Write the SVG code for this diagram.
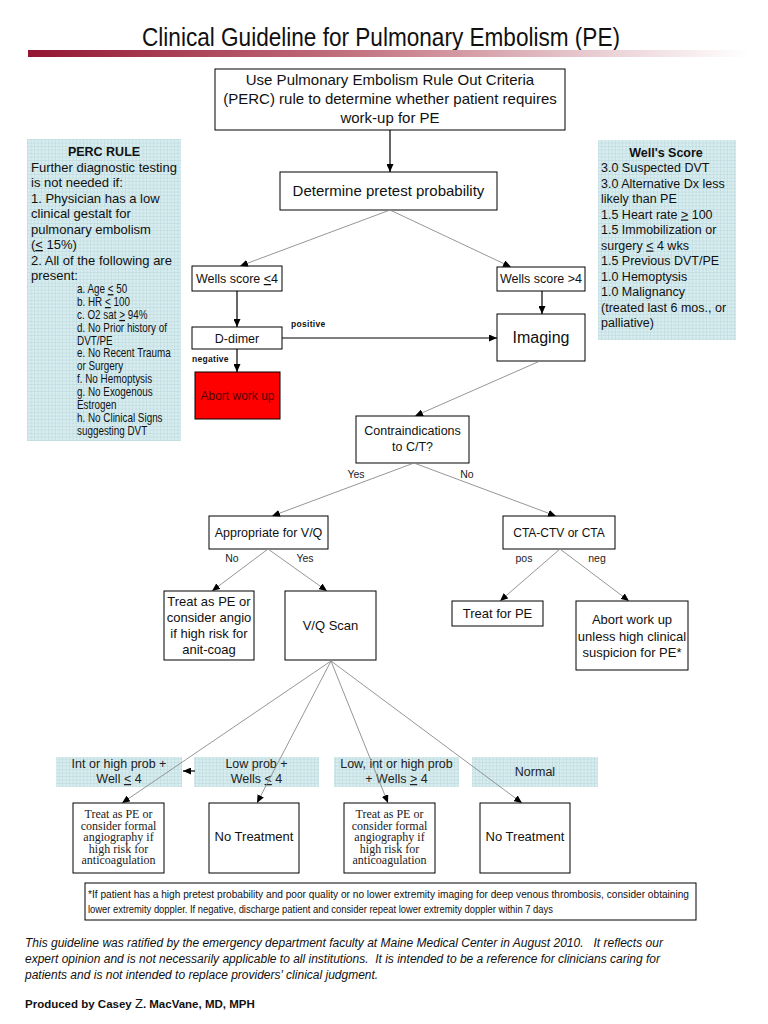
<svg xmlns="http://www.w3.org/2000/svg" width="768" height="1024" viewBox="0 0 768 1024">
<defs>
<linearGradient id="bar" x1="0" y1="0" x2="1" y2="0">
<stop offset="0" stop-color="#941632"/>
<stop offset="0.45" stop-color="#c2727f"/>
<stop offset="0.8" stop-color="#ead0d5"/>
<stop offset="1" stop-color="#ffffff"/>
</linearGradient>
<pattern id="grid" width="3.5" height="3.5" patternUnits="userSpaceOnUse">
<rect width="3.5" height="3.5" fill="#d7ecef"/>
<path d="M3.5 0V3.5M0 3.5H3.5" stroke="#a6cbd1" stroke-width="0.6"/>
</pattern>
<marker id="ah" markerWidth="8" markerHeight="7" refX="8" refY="3.5" orient="auto" markerUnits="userSpaceOnUse">
<path d="M0,0 L8,3.5 L0,7 z" fill="#000"/>
</marker>
<style>
text{font-family:"Liberation Sans",Arial,sans-serif;fill:#111}
.box{fill:#fff;stroke:#000;stroke-width:1}
.note{fill:url(#grid);stroke:none}
.c{text-anchor:middle}
.s15{font-size:15px}
.s13{font-size:13px}
.s125{font-size:12.5px}
.s12{font-size:12px}
.lab{font-size:10.5px;fill:#222}
.tiny{font-size:8.5px;font-weight:bold;letter-spacing:0.3px}
.serif{font-family:"Liberation Serif","Times New Roman",serif;font-size:12px;fill:#222}
.u{text-decoration:underline}
.cn{fill:none;stroke:#000;stroke-width:1.2}
.cg{fill:none;stroke:#8a8a8a;stroke-width:0.9}
.fn{font-size:10.2px}
</style>
</defs>
<rect width="768" height="1024" fill="#fff"/>

<g id="header">
<text x="381" y="46" class="c" style="font-size:25px" textLength="478" lengthAdjust="spacingAndGlyphs">Clinical Guideline for Pulmonary Embolism (PE)</text>
<rect x="28" y="50" width="720" height="7" fill="url(#bar)"/>
</g>

<g id="perc-note">
<rect x="27" y="139" width="154" height="302" class="note"/>
<text x="104" y="155.5" class="c s125" style="font-weight:bold">PERC RULE</text>
<g class="s13">
<text x="31" y="171.5">Further diagnostic testing</text>
<text x="31" y="187">is not needed if:</text>
<text x="31" y="202.5">1. Physician has a low</text>
<text x="31" y="218">clinical gestalt for</text>
<text x="31" y="233.5">pulmonary embolism</text>
<text x="31" y="249">(<tspan class="u">&lt;</tspan> 15%)</text>
<text x="31" y="264.5">2. All of the following are</text>
<text x="31" y="280">present:</text>
</g>
<g class="s13" transform="translate(77,0) scale(0.76,1)">
<text x="0" y="293">a. Age <tspan class="u">&lt;</tspan> 50</text>
<text x="0" y="305.9">b. HR <tspan class="u">&lt;</tspan> 100</text>
<text x="0" y="318.8">c. O2 sat <tspan class="u">&gt;</tspan> 94%</text>
<text x="0" y="331.7">d. No Prior history of</text>
<text x="0" y="344.6">DVT/PE</text>
<text x="0" y="357.5">e. No Recent Trauma</text>
<text x="0" y="370.4">or Surgery</text>
<text x="0" y="383.3">f. No Hemoptysis</text>
<text x="0" y="396.2">g. No Exogenous</text>
<text x="0" y="409.1">Estrogen</text>
<text x="0" y="422">h. No Clinical Signs</text>
<text x="0" y="434.9">suggesting DVT</text>
</g>
</g>

<g id="wells-note">
<rect x="598" y="140" width="138" height="200" class="note"/>
<text x="666" y="156.5" class="c s125" style="font-weight:bold">Well's Score</text>
<g class="s125">
<text x="601" y="172">3.0 Suspected DVT</text>
<text x="601" y="187.5">3.0 Alternative Dx less</text>
<text x="601" y="203">likely than PE</text>
<text x="601" y="218.5">1.5 Heart rate <tspan class="u">&gt;</tspan> 100</text>
<text x="601" y="234">1.5 Immobilization or</text>
<text x="601" y="249.5">surgery <tspan class="u">&lt;</tspan> 4 wks</text>
<text x="601" y="265">1.5 Previous DVT/PE</text>
<text x="601" y="280.5">1.0 Hemoptysis</text>
<text x="601" y="296">1.0 Malignancy</text>
<text x="601" y="311.5">(treated last 6 mos., or</text>
<text x="601" y="327">palliative)</text>
</g>
</g>

<g id="perc-start">
<rect x="215" y="69" width="350" height="61" class="box"/>
<text x="390" y="85" class="c s15">Use Pulmonary Embolism Rule Out Criteria</text>
<text x="390" y="104" class="c s15">(PERC) rule to determine whether patient requires</text>
<text x="390" y="123" class="c s15">work-up for PE</text>
</g>

<g id="pretest">
<rect x="280" y="172" width="217" height="38" class="box"/>
<text x="388.5" y="196" class="c s15">Determine pretest probability</text>
</g>

<g id="wells-low">
<rect x="192" y="266" width="90" height="25" class="box"/>
<text x="237" y="283" class="c s125">Wells score <tspan class="u">&lt;</tspan>4</text>
</g>

<g id="wells-high">
<rect x="497" y="267" width="88" height="24" class="box"/>
<text x="541" y="283" class="c s125">Wells score &gt;4</text>
</g>

<g id="ddimer">
<rect x="192" y="327" width="90" height="22" class="box"/>
<text x="237" y="342.5" class="c s125">D-dimer</text>
</g>

<g id="abort1">
<rect x="195" y="372" width="85" height="47" fill="#ff0000" stroke="#000" stroke-width="1"/>
<text x="237.5" y="400" class="c s12" style="fill:#550000">Abort work up</text>
</g>

<g id="imaging">
<rect x="497" y="314" width="88" height="47" class="box"/>
<text x="541" y="343" class="c" style="font-size:16px">Imaging</text>
</g>

<g id="contra">
<rect x="356" y="416" width="113" height="47" class="box"/>
<text x="412.5" y="434.5" class="c s125">Contraindications</text>
<text x="412.5" y="450.5" class="c s125">to C/T?</text>
</g>

<g id="vq-appropriate">
<rect x="209" y="516" width="119" height="33" class="box"/>
<text x="268.5" y="537" class="c s125">Appropriate for V/Q</text>
</g>

<g id="cta">
<rect x="503" y="516" width="112" height="33" class="box"/>
<text x="559" y="537" class="c s12">CTA-CTV or CTA</text>
</g>

<g id="treat-angio">
<rect x="164" y="591" width="90" height="69" class="box"/>
<text x="209" y="606" class="c s13">Treat as PE or</text>
<text x="209" y="622" class="c s13">consider angio</text>
<text x="209" y="638" class="c s13">if high risk for</text>
<text x="209" y="654" class="c s13">anit-coag</text>
</g>

<g id="vq-scan">
<rect x="285" y="591" width="91" height="69" class="box"/>
<text x="330.5" y="630" class="c s13">V/Q Scan</text>
</g>

<g id="treat-pe">
<rect x="452" y="601" width="91" height="25" class="box"/>
<text x="497.5" y="618" class="c s13">Treat for PE</text>
</g>

<g id="abort2">
<rect x="576" y="601" width="112" height="69" class="box"/>
<text x="632" y="624" class="c s13">Abort work up</text>
<text x="632" y="640.5" class="c s13">unless high clinical</text>
<text x="632" y="657" class="c s13">suspicion for PE*</text>
</g>

<g id="lbl-int-high">
<rect x="56" y="757" width="126" height="30" class="note"/>
<text x="119" y="768" class="c s125" style="fill:#222">Int or high prob +</text>
<text x="119" y="783" class="c s125" style="fill:#222">Well <tspan class="u">&lt;</tspan> 4</text>
</g>

<g id="lbl-low">
<rect x="194" y="757" width="125" height="30" class="note"/>
<text x="256.5" y="768" class="c s125" style="fill:#222">Low prob +</text>
<text x="256.5" y="783" class="c s125" style="fill:#222">Wells <tspan class="u">&lt;</tspan> 4</text>
</g>

<g id="lbl-any">
<rect x="334" y="757" width="125" height="30" class="note"/>
<text x="396.5" y="768" class="c s125" style="fill:#222">Low, int or high prob</text>
<text x="396.5" y="783" class="c s125" style="fill:#222">+ Wells <tspan class="u">&gt;</tspan> 4</text>
</g>

<g id="lbl-normal">
<rect x="472" y="757" width="126" height="30" class="note"/>
<text x="535" y="775.5" class="c s125" style="fill:#222">Normal</text>
</g>

<g id="res1">
<rect x="73" y="803" width="91" height="70" class="box"/>
<text x="118.5" y="818" class="c serif">Treat as PE or</text>
<text x="118.5" y="829.5" class="c serif">consider formal</text>
<text x="118.5" y="841" class="c serif">angiography if</text>
<text x="118.5" y="852.5" class="c serif">high risk for</text>
<text x="118.5" y="864" class="c serif">anticoagulation</text>
</g>

<g id="res2">
<rect x="209" y="803" width="90" height="70" class="box"/>
<text x="254" y="841" class="c s13">No Treatment</text>
</g>

<g id="res3">
<rect x="344" y="803" width="91" height="70" class="box"/>
<text x="389.5" y="818" class="c serif">Treat as PE or</text>
<text x="389.5" y="829.5" class="c serif">consider formal</text>
<text x="389.5" y="841" class="c serif">angiography if</text>
<text x="389.5" y="852.5" class="c serif">high risk for</text>
<text x="389.5" y="864" class="c serif">anticoagulation</text>
</g>

<g id="res4">
<rect x="480" y="803" width="90" height="70" class="box"/>
<text x="525" y="841" class="c s13">No Treatment</text>
</g>

<g id="footnote">
<rect x="85" y="883" width="611" height="37" class="box"/>
<text x="88" y="898" class="fn" textLength="601" lengthAdjust="spacingAndGlyphs">*If patient has a high pretest probability and poor quality or no lower extremity imaging for deep venous thrombosis, consider obtaining</text>
<text x="88" y="912.5" class="fn" textLength="465" lengthAdjust="spacingAndGlyphs">lower extremity doppler. If negative, discharge patient and consider repeat lower extremity doppler within 7 days</text>
</g>

<g id="disclaimer">
<text x="25" y="947" style="font-size:12px;font-style:italic" xml:space="preserve">This guideline was ratified by the emergency department faculty at Maine Medical Center in August 2010.   It reflects our</text>
<text x="25" y="963" style="font-size:12px;font-style:italic" xml:space="preserve">expert opinion and is not necessarily applicable to all institutions.  It is intended to be a reference for clinicians caring for</text>
<text x="25" y="979" style="font-size:12px;font-style:italic">patients and is not intended to replace providers' clinical judgment.</text>
<text x="25" y="1008" style="font-size:11.5px;font-weight:bold">Produced by Casey <tspan style="font-weight:normal;font-size:13px">Z</tspan>. MacVane, MD, MPH</text>
</g>

<g id="connectors">
<line x1="390" y1="130" x2="390" y2="172" class="cn" marker-end="url(#ah)"/>
<line x1="390" y1="210" x2="240" y2="266" class="cg" marker-end="url(#ah)"/>
<line x1="390" y1="210" x2="511" y2="267" class="cg" marker-end="url(#ah)"/>
<line x1="237" y1="291" x2="237" y2="327" class="cn" marker-end="url(#ah)"/>
<line x1="282" y1="338" x2="497" y2="338" class="cn" marker-end="url(#ah)"/>
<line x1="237" y1="349" x2="237" y2="372" class="cn" marker-end="url(#ah)"/>
<line x1="542" y1="291" x2="542" y2="314" class="cn" marker-end="url(#ah)"/>
<line x1="540" y1="361" x2="415" y2="416" class="cg" marker-end="url(#ah)"/>
<line x1="414" y1="463" x2="272" y2="516" class="cg" marker-end="url(#ah)"/>
<line x1="414" y1="463" x2="556" y2="516" class="cg" marker-end="url(#ah)"/>
<line x1="268" y1="549" x2="212" y2="591" class="cg" marker-end="url(#ah)"/>
<line x1="268" y1="549" x2="327" y2="591" class="cg" marker-end="url(#ah)"/>
<line x1="560" y1="549" x2="500" y2="601" class="cg" marker-end="url(#ah)"/>
<line x1="560" y1="549" x2="629" y2="601" class="cg" marker-end="url(#ah)"/>
<line x1="331" y1="661" x2="122" y2="803" class="cg" marker-end="url(#ah)"/>
<line x1="331" y1="661" x2="257" y2="803" class="cg" marker-end="url(#ah)"/>
<line x1="331" y1="661" x2="388" y2="803" class="cg" marker-end="url(#ah)"/>
<line x1="331" y1="661" x2="522" y2="803" class="cg" marker-end="url(#ah)"/>
<line x1="195" y1="771" x2="183" y2="771" class="cn" marker-end="url(#ah)"/>
<text x="291" y="327" class="tiny">positive</text>
<text x="192" y="362" class="tiny">negative</text>
<text x="356" y="477.5" class="c lab">Yes</text>
<text x="467" y="477.5" class="c lab">No</text>
<text x="232" y="562" class="c lab">No</text>
<text x="305" y="562" class="c lab">Yes</text>
<text x="524" y="562" class="c lab">pos</text>
<text x="597" y="562" class="c lab">neg</text>
</g>
</svg>
